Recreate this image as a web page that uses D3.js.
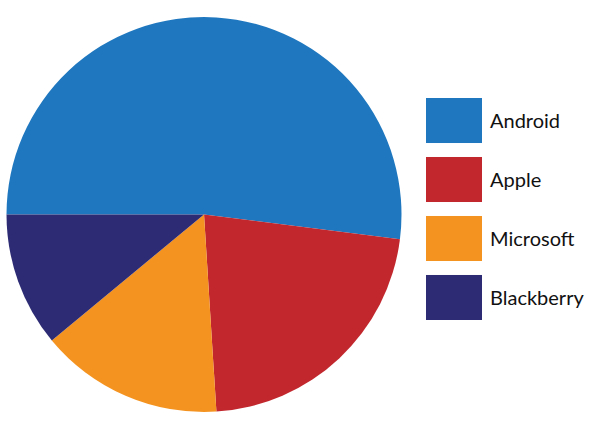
<!DOCTYPE html>
<html>
<head>
<meta charset="utf-8">
<script src="https://cdn.jsdelivr.net/npm/d3@7"></script>
<style>
  body { margin: 0; background: #fff; }
  svg { display: block; }
  .legend-label { font-family: Lato, "Open Sans", sans-serif; font-size: 20px; fill: #111; }
</style>
</head>
<body>
<div id="chart"></div>
<script>
// Market share by platform
const categories = ['Android', 'Apple', 'Microsoft', 'Blackberry'];
const shares = [52, 22, 15, 11];
const colors = ['#1f78bf', '#c1272d', '#f4931f', '#2d2b74'];

const width = 600;
const height = 427;

const svg = d3.select('#chart')
  .append('svg')
  .attr('width', width)
  .attr('height', height);

const data = categories.map((name, i) => ({ name, value: shares[i] }));

const color = d3.scaleOrdinal()
  .domain(categories)
  .range(colors);

// Pie starts at 9 o'clock and runs clockwise
const pie = d3.pie()
  .sort(null)
  .value(d => d.value)
  .startAngle(-Math.PI / 2)
  .endAngle(Math.PI * 1.5);

const radius = 197.5;
const arc = d3.arc()
  .innerRadius(0)
  .outerRadius(radius);

const pieGroup = svg.append('g')
  .attr('transform', 'translate(204, 214.5)');

pieGroup.selectAll('path')
  .data(pie(data))
  .enter()
  .append('path')
  .attr('d', arc)
  .attr('fill', d => color(d.data.name));

// Legend
const legendY = d3.scaleBand()
  .domain(categories)
  .range([98, 320])
  .paddingInner(0.237)
  .paddingOuter(0);

const legend = svg.append('g')
  .attr('class', 'legend');

const rows = legend.selectAll('g')
  .data(categories)
  .enter()
  .append('g')
  .attr('transform', d => `translate(426, ${legendY(d)})`);

rows.append('rect')
  .attr('width', 56)
  .attr('height', legendY.bandwidth())
  .attr('fill', d => color(d));

rows.append('text')
  .attr('class', 'legend-label')
  .attr('x', 64)
  .attr('y', legendY.bandwidth() / 2 + 7.5)
  .text(d => d);
</script>
</body>
</html>
